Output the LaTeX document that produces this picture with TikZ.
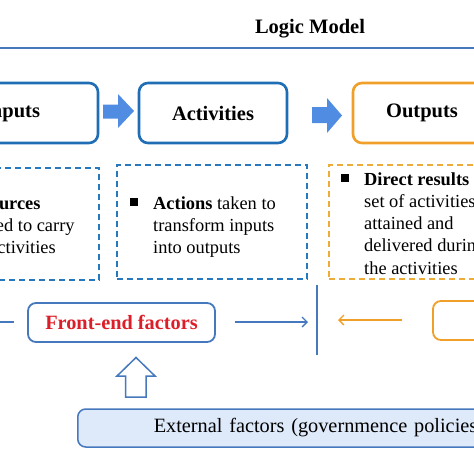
\documentclass[tikz,border=0pt]{standalone}
\usepackage{fontspec}
\setmainfont{Liberation Serif}
\usetikzlibrary{arrows.meta}
\definecolor{boxblue}{RGB}{31,110,181}
\definecolor{boxorange}{RGB}{240,160,40}
\definecolor{dashblue}{RGB}{40,120,190}
\definecolor{dashorange}{RGB}{236,172,55}
\definecolor{lineblue}{RGB}{70,120,190}
\definecolor{arrowfill}{RGB}{80,140,225}
\definecolor{extfill}{RGB}{222,233,250}
\definecolor{frontred}{RGB}{220,30,40}
\newcommand{\bsq}{\leavevmode\llap{\rule[3pt]{8.5pt}{8.5pt}\hspace{15pt}}}
\begin{document}
\begin{tikzpicture}[x=1pt,y=-1pt,
  stagebox/.style={draw=boxblue, line width=2.6pt, rounded corners=9pt, minimum height=60pt, inner sep=0pt, font=\fontsize{20.5}{24}\selectfont\bfseries},
  dashbox/.style={draw=dashblue, line width=1.8pt, dash pattern=on 6pt off 4pt, inner sep=0pt},
  bodytext/.style={inner sep=0pt, anchor=base west, font=\fontsize{18.4}{22.3}\selectfont},
  blockarrow/.style={fill=arrowfill},
  thinline/.style={draw=lineblue, line width=1.3pt},
  factorbox/.style={draw=lineblue, line width=1.8pt, rounded corners=8pt, minimum width=187pt, minimum height=39pt, inner sep=0pt},
  barb/.style={-{Straight Barb[length=5pt,width=10pt]}}
]
\useasboundingbox (0,0) rectangle (474,474);
\clip (0,0) rectangle (474,474);

% title and rule
\node[anchor=base, inner sep=0pt, font=\fontsize{20.5}{24}\selectfont\bfseries] (title) at (310,33) {Logic Model};
\coordinate (ruleL) at (0,48);
\coordinate (ruleR) at (474,48);
\draw[draw=lineblue, line width=2pt] (ruleL) -- (ruleR);

% stage boxes
\node[stagebox, minimum width=173pt] (inputs) at (11.5,113) {Inputs};
\node[stagebox, minimum width=148pt] (activities) at (213,113) {Activities};
\node[stagebox, draw=boxorange, minimum width=138pt] (outputs) at (422,113) {Outputs};

% block arrows
\fill[blockarrow] (103,104.5) -- (118,104.5) -- (118,94) -- (134,111) -- (118,128) -- (118,118.5) -- (103,118.5) -- cycle;
\fill[blockarrow] (312,107) -- (327,107) -- (327,98) -- (342,115.5) -- (327,133) -- (327,123) -- (312,123) -- cycle;

% dashed boxes
\node[dashbox, minimum width=190pt, minimum height=112pt] (inD) at (4,224) {};
\node[dashbox, minimum width=190pt, minimum height=114pt] (actD) at (212,222) {};
\node[dashbox, draw=dashorange, minimum width=190pt, minimum height=114pt] (outD) at (424,222) {};

\node[bodytext] (inT) at (-39,209) {\parbox[t]{160pt}{\raggedright\bsq\textbf{Resources}\\needed to carry\\out activities}};
\node[bodytext] (actT) at (153,209) {\parbox[t]{160pt}{\raggedright\bsq\textbf{Actions} taken to\\transform inputs\\into outputs}};
\node[bodytext] (outT) at (364,185) {\parbox[t]{160pt}{\raggedright\bsq\textbf{Direct results}\\set of activities\\attained and\\delivered during\\the activities}};

% bottom row
\coordinate (stubL) at (0,322);
\coordinate (stubR) at (14,322);
\draw[thinline] (stubL) -- (stubR);
\node[factorbox, text=frontred, font=\fontsize{20.3}{24}\selectfont\bfseries] (front) at (121.5,322.5) {Front-end factors};
\node[factorbox, draw=boxorange] (back) at (526.5,320.5) {};
\coordinate (sepT) at (317,285);
\coordinate (sepB) at (317,355);
\draw[thinline] (sepT) -- (sepB);
\coordinate (a1s) at (235,322);
\coordinate (a1e) at (308,322);
\draw[thinline, barb] (a1s) -- (a1e);
\coordinate (a2s) at (402,320);
\coordinate (a2e) at (338,320);
\draw[draw=boxorange, line width=1.3pt, barb] (a2s) -- (a2e);

% hollow up arrow
\draw[draw=lineblue, line width=1.5pt, fill=white, line join=miter] (125.5,397) -- (125.5,376) -- (117,376) -- (136,357.5) -- (155,376) -- (146,376) -- (146,397) -- cycle;

% external factors
\node[draw=lineblue, fill=extfill, line width=1.5pt, rounded corners=8pt, anchor=west, inner xsep=76pt, inner ysep=0pt, minimum height=38pt, text width=400pt, align=left, font=\fontsize{20.3}{24}\selectfont] (ext) at (77,428) {External factors (governmence policies};
\end{tikzpicture}
\end{document}
